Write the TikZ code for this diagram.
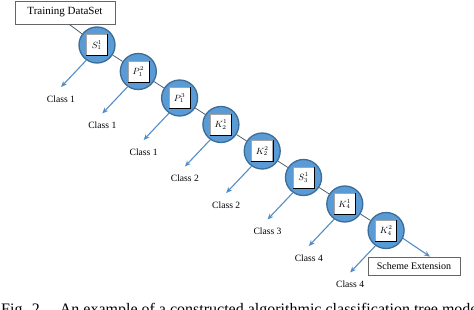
\documentclass[tikz,border=0pt]{standalone}
\usepackage{fontspec}
\setmainfont{Liberation Serif}
\usetikzlibrary{arrows.meta,calc}
\definecolor{cfill}{RGB}{91,155,213}
\definecolor{cborder}{RGB}{60,108,152}
\definecolor{arrowc}{RGB}{84,141,197}
\definecolor{linkc}{RGB}{80,96,115}
\begin{document}
\begin{tikzpicture}[x=1pt,y=-1pt,
  nodecirc/.style={circle,fill=cfill,draw=cborder,line width=1.3pt,minimum size=36pt,inner sep=0pt},
  sq/.style={fill=white,draw=gray!70,line width=0.5pt,minimum size=21pt,inner sep=0pt,font=\fontsize{9}{10}\selectfont},
  link/.style={draw=linkc,line width=0.8pt},
  arr/.style={draw=arrowc,line width=1.1pt,-{Stealth[length=6pt,width=5pt]}},
  cls/.style={font=\fontsize{9.6}{11}\selectfont,inner sep=0pt},
  box/.style={draw=gray!80!black,line width=0.8pt,fill=white,inner sep=0pt}
]
\useasboundingbox (0,0) rectangle (474,310);
\clip (0,0) rectangle (474,310);

% circles with squares
\foreach \i/\lab in {0/{S_1^1},1/{P_1^2},2/{P_1^3},3/{K_2^1},4/{K_2^2},5/{S_3^1},6/{K_4^1},7/{K_4^2}}{
  \node[nodecirc] (c\i) at ({97+41.3*\i},{45+26.5*\i}) {};
  \node[sq] (s\i) at (c\i) {$\lab$};
  \draw[line width=0.8pt] (s\i.north east) -- (s\i.south east) -- (s\i.south west);
}
% links between circles
\foreach \i/\j in {0/1,1/2,2/3,3/4,4/5,5/6,6/7}{
  \draw[link] (c\i) -- (c\j);
}
% class arrows
\foreach \i/\cl in {0/1,1/1,2/1,3/2,4/2,5/3,6/4,7/4}{
  \coordinate (e\i) at ($(c\i)+(-36,42)$);
  \draw[arr] (c\i.235) -- (e\i);
  \node[cls] (l\i) at ($(e\i)+(0,12)$) {Class \cl};
}

% training dataset
\node[box,minimum width=100pt,minimum height=23pt,font=\fontsize{11}{13}\selectfont] (tds) at (65,12.5) {Training DataSet};
\draw[link] (tds.-70) -- (c0);

% scheme extension
\node[box,minimum width=92pt,minimum height=18pt,font=\fontsize{10}{12}\selectfont] (se) at (414,266) {Scheme Extension};
\draw[arr] (c7.-25) -- ([xshift=16pt]se.north);

% cut caption
\node[anchor=base west,inner sep=0pt,font=\fontsize{16}{19}\selectfont] (cap) at (1,314) {Fig. 2.\quad An example of a constructed algorithmic classification tree model};
\end{tikzpicture}
\end{document}
